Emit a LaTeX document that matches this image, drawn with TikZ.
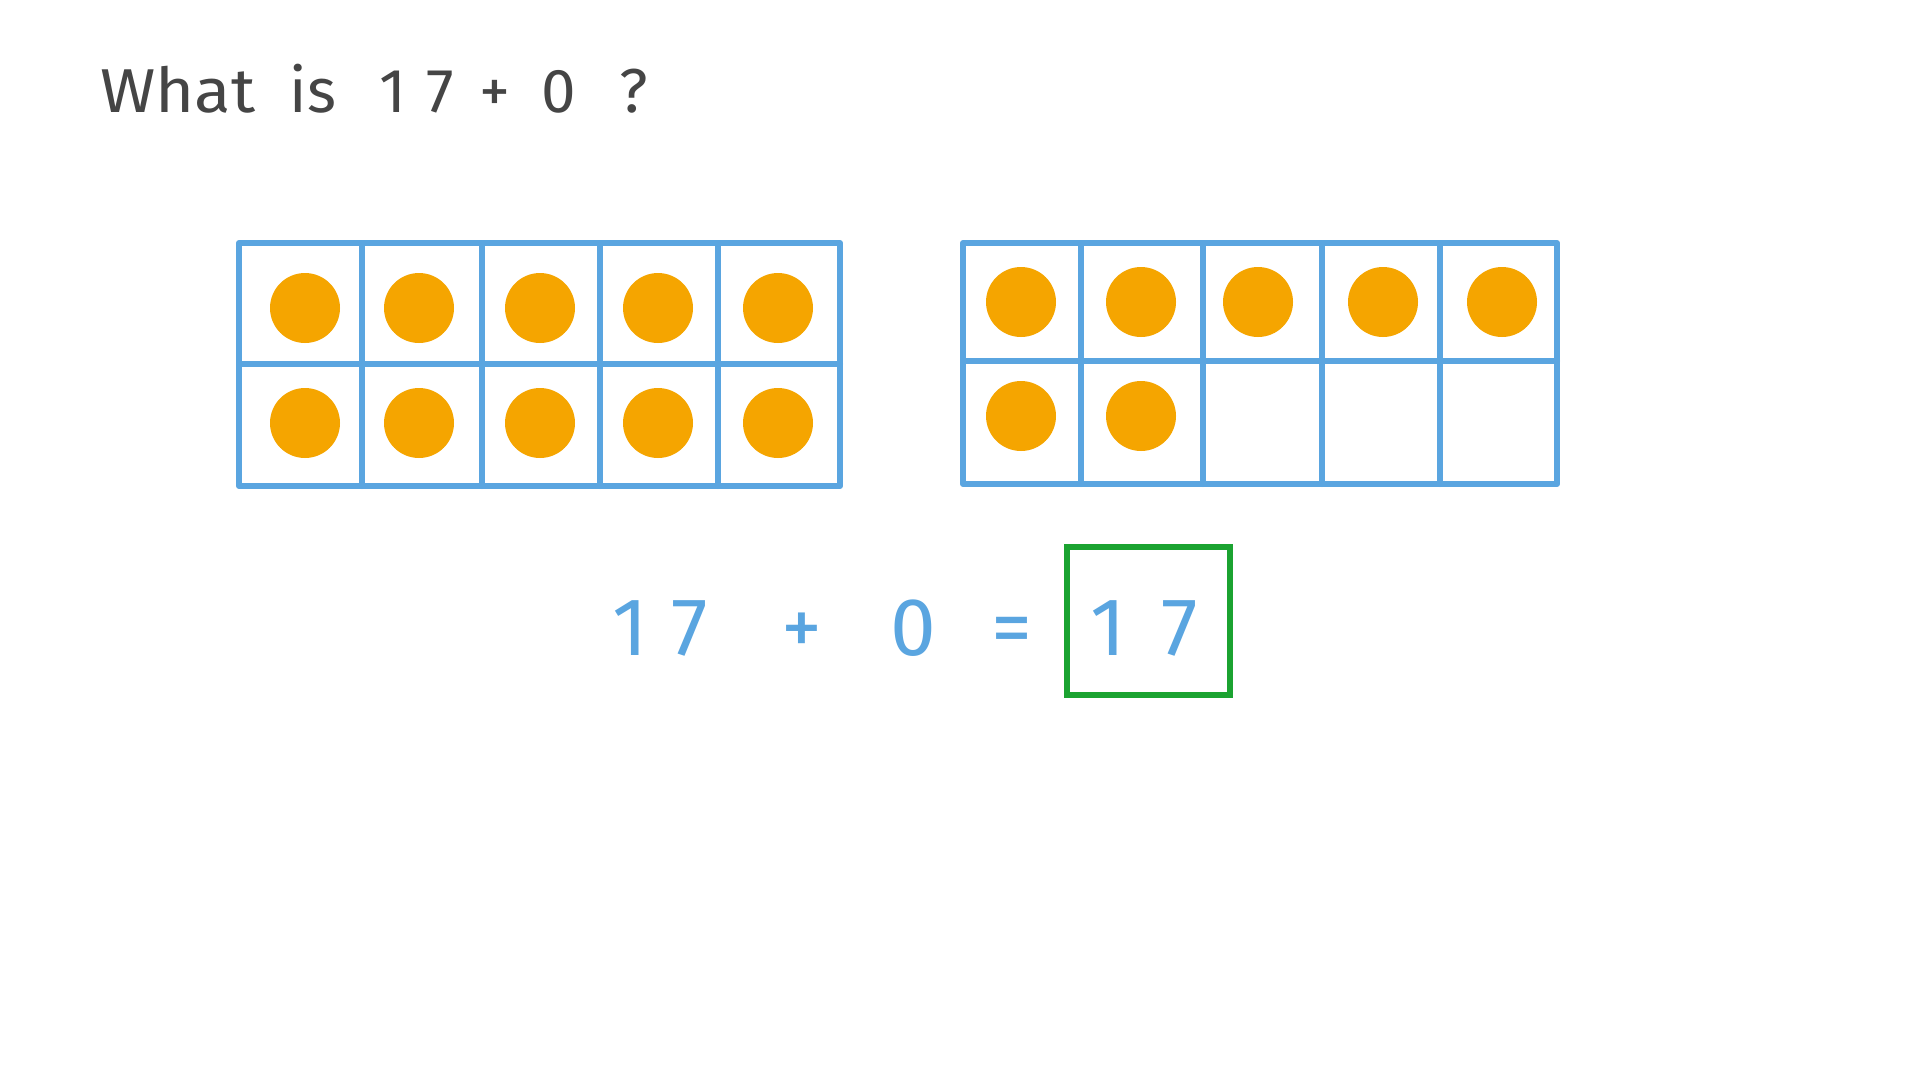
\documentclass[tikz,border=0pt]{standalone}
\usepackage{fontspec}
\setmainfont{Fira Sans}
\definecolor{ink}{HTML}{454545}
\definecolor{frameblue}{HTML}{5AA5E0}
\definecolor{dotorange}{HTML}{F5A500}
\definecolor{boxgreen}{HTML}{1BA331}
\begin{document}
\begin{tikzpicture}[x=1pt,y=-1pt,
  frame/.style={draw=frameblue, line width=6pt, line cap=round, line join=round},
  counter/.style={fill=dotorange},
  qtext/.style={text=ink, font=\fontsize{62}{70}\selectfont, anchor=base, inner sep=0pt},
  eqtext/.style={text=frameblue, font=\fontsize{82}{95}\selectfont, anchor=base, inner sep=0pt},
  answerbox/.style={draw=boxgreen, line width=6pt, line cap=round, minimum width=163pt, minimum height=148pt, inner sep=0pt}]
\useasboundingbox[fill=white] (0,0) rectangle (1920,1080);

% question
\node[qtext, xscale=1.08] (qwhat) at (178,112) {What};
\node[qtext] (qis) at (313,112) {is};
\node[qtext] (qone) at (393,112) {1};
\node[qtext] (qseven) at (440,112) {7};
\node[qtext] (qplus) at (495,112) {+};
\node[qtext] (qzero) at (559,112) {0};
\node[qtext] (qmark) at (634,112) {?};

% left ten-frame
\draw[frame] (239,243) rectangle (840,486);
\draw[frame] (239,364) -- (840,364);
\foreach \x in {362,482,600,718} \draw[frame] (\x,243) -- (\x,486);
\foreach \x in {305,419,540,658,778} {
  \fill[counter] (\x,308) ellipse (35pt and 35pt);
  \fill[counter] (\x,423) ellipse (35pt and 35pt);
}

% right ten-frame
\draw[frame] (963,243) rectangle (1557,484);
\draw[frame] (963,361) -- (1557,361);
\foreach \x in {1081,1203,1322,1440} \draw[frame] (\x,243) -- (\x,484);
\foreach \x in {1021,1141,1258,1383,1502} \fill[counter] (\x,302) ellipse (35pt and 35pt);
\foreach \x in {1021,1141} \fill[counter] (\x,416) ellipse (35pt and 35pt);

% equation
\node[eqtext] (eone) at (630,655) {1};
\node[eqtext] (eseven) at (690,655) {7};
\node[eqtext] (eplus) at (802,655) {+};
\node[eqtext] (ezero) at (913,655) {0};
\node[eqtext] (eeq) at (1012,655) {=};
\node[answerbox] (ans) at (1148.5,621) {};
\node[eqtext] (aone) at (1108,655) {1};
\node[eqtext] (aseven) at (1180,655) {7};
\end{tikzpicture}
\end{document}
